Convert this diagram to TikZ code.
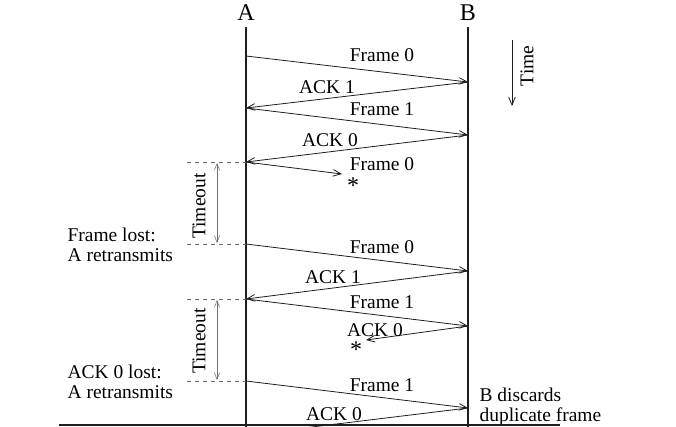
\documentclass[tikz,border=0pt]{standalone}
\usepackage{fontspec}
\setmainfont{Liberation Serif}
\usetikzlibrary{arrows.meta, positioning}
\definecolor{lineblack}{RGB}{30, 30, 30}
\definecolor{dashgray}{RGB}{110, 110, 110}
\tikzset{
  msgarrow/.style={-{Straight Barb[length=6pt, width=5pt]}, line width=0.6pt, lineblack},
  lostarrow/.style={-{Straight Barb[length=6pt, width=5pt]}, line width=0.6pt, lineblack},
  timeline/.style={line width=1.4pt, lineblack},
  timeoutmark/.style={dashed, line width=0.6pt, dashgray},
  timeoutarrow/.style={{Straight Barb[length=5pt, width=4pt]}-{Straight Barb[length=5pt, width=4pt]}, line width=0.4pt, dashgray},
  msglabel/.style={font=\fontsize{14.6}{15}\selectfont, inner sep=1pt},
  sidenote/.style={font=\fontsize{14.6}{15}\selectfont, align=left, anchor=west, inner sep=1pt}
}

\begin{document}
\begin{tikzpicture}[x=0.75pt, y=-0.75pt]
    \useasboundingbox (0,0) rectangle (676,426);
    \clip (0,0) rectangle (676,426);

    % hosts
    \node (A) [font=\fontsize{18}{18}\selectfont] at (246,13) {A};
    \node (B) [font=\fontsize{18}{18}\selectfont] at (468,13) {B};
    \coordinate (Aend) at (246,430);
    \coordinate (Bend) at (468,430);
    \draw[timeline] (246,27) -- (Aend);
    \draw[timeline] (468,27) -- (Bend);

    % events on A and B
    \coordinate (a1) at (246,56);
    \coordinate (b1) at (468,82);
    \coordinate (a2) at (246,108);
    \coordinate (b2) at (468,135);
    \coordinate (a3) at (246,162);
    \coordinate (lost1) at (342,174);
    \coordinate (a4) at (246,244);
    \coordinate (b3) at (468,271);
    \coordinate (a5) at (246,299);
    \coordinate (b4) at (468,326);
    \coordinate (lost2) at (366,340);
    \coordinate (a6) at (246,381);
    \coordinate (b5) at (468,408);
    \coordinate (a7) at (246,435);

    % messages
    \draw[msgarrow] (a1) -- (b1);
    \draw[msgarrow] (b1) -- (a2);
    \draw[msgarrow] (a2) -- (b2);
    \draw[msgarrow] (b2) -- (a3);
    \draw[lostarrow] (a3) -- (lost1);
    \draw[msgarrow] (a4) -- (b3);
    \draw[msgarrow] (b3) -- (a5);
    \draw[msgarrow] (a5) -- (b4);
    \draw[lostarrow] (b4) -- (lost2);
    \draw[msgarrow] (a6) -- (b5);
    \draw[msgarrow] (b5) -- (a7);

    \node (f0a) [msglabel] at (382,55) {Frame 0};
    \node (k1a) [msglabel] at (327,87) {ACK 1};
    \node (f1a) [msglabel] at (382,109) {Frame 1};
    \node (k0a) [msglabel] at (330,140) {ACK 0};
    \node (f0b) [msglabel] at (382,164) {Frame 0};
    \node (star1) [msglabel, font=\fontsize{18}{18}\selectfont] at (353,186) {*};
    \node (f0c) [msglabel] at (382,247) {Frame 0};
    \node (k1b) [msglabel] at (333,277) {ACK 1};
    \node (f1b) [msglabel] at (382,302) {Frame 1};
    \node (k0b) [msglabel] at (375,330) {ACK 0};
    \node (star2) [msglabel, font=\fontsize{18}{18}\selectfont] at (356,350) {*};
    \node (f1c) [msglabel] at (382,385) {Frame 1};
    \node (k0c) [msglabel] at (334,414) {ACK 0};

    % timeouts
    \coordinate (t1top) at (187,162);
    \coordinate (t1bot) at (187,244);
    \coordinate (t2top) at (187,299);
    \coordinate (t2bot) at (187,381);
    \draw[timeoutmark] (t1top) -- (a3);
    \draw[timeoutmark] (t1bot) -- (a4);
    \draw[timeoutmark] (t2top) -- (a5);
    \draw[timeoutmark] (t2bot) -- (a6);
    \draw[timeoutarrow] (217,163) -- (217,243);
    \draw[timeoutarrow] (217,300) -- (217,380);
    \node (to1) [msglabel, rotate=90] at (199,206) {Timeout};
    \node (to2) [msglabel, rotate=90] at (199,341) {Timeout};

    \node (note1) [sidenote] at (66,245) {Frame lost:\\A retransmits};
    \node (note2) [sidenote] at (66,382) {ACK 0 lost:\\A retransmits};
    \node (note3) [sidenote] at (478,407) {B discards\\duplicate frame};

    % time axis
    \coordinate (time0) at (512,40);
    \coordinate (time1) at (512,106);
    \draw[msgarrow] (time0) -- (time1);
    \node (timelbl) [msglabel, rotate=90] at (527,66) {Time};

    \draw[line width=1.2pt, lineblack] (59,425) -- (560,425);
\end{tikzpicture}
\end{document}
